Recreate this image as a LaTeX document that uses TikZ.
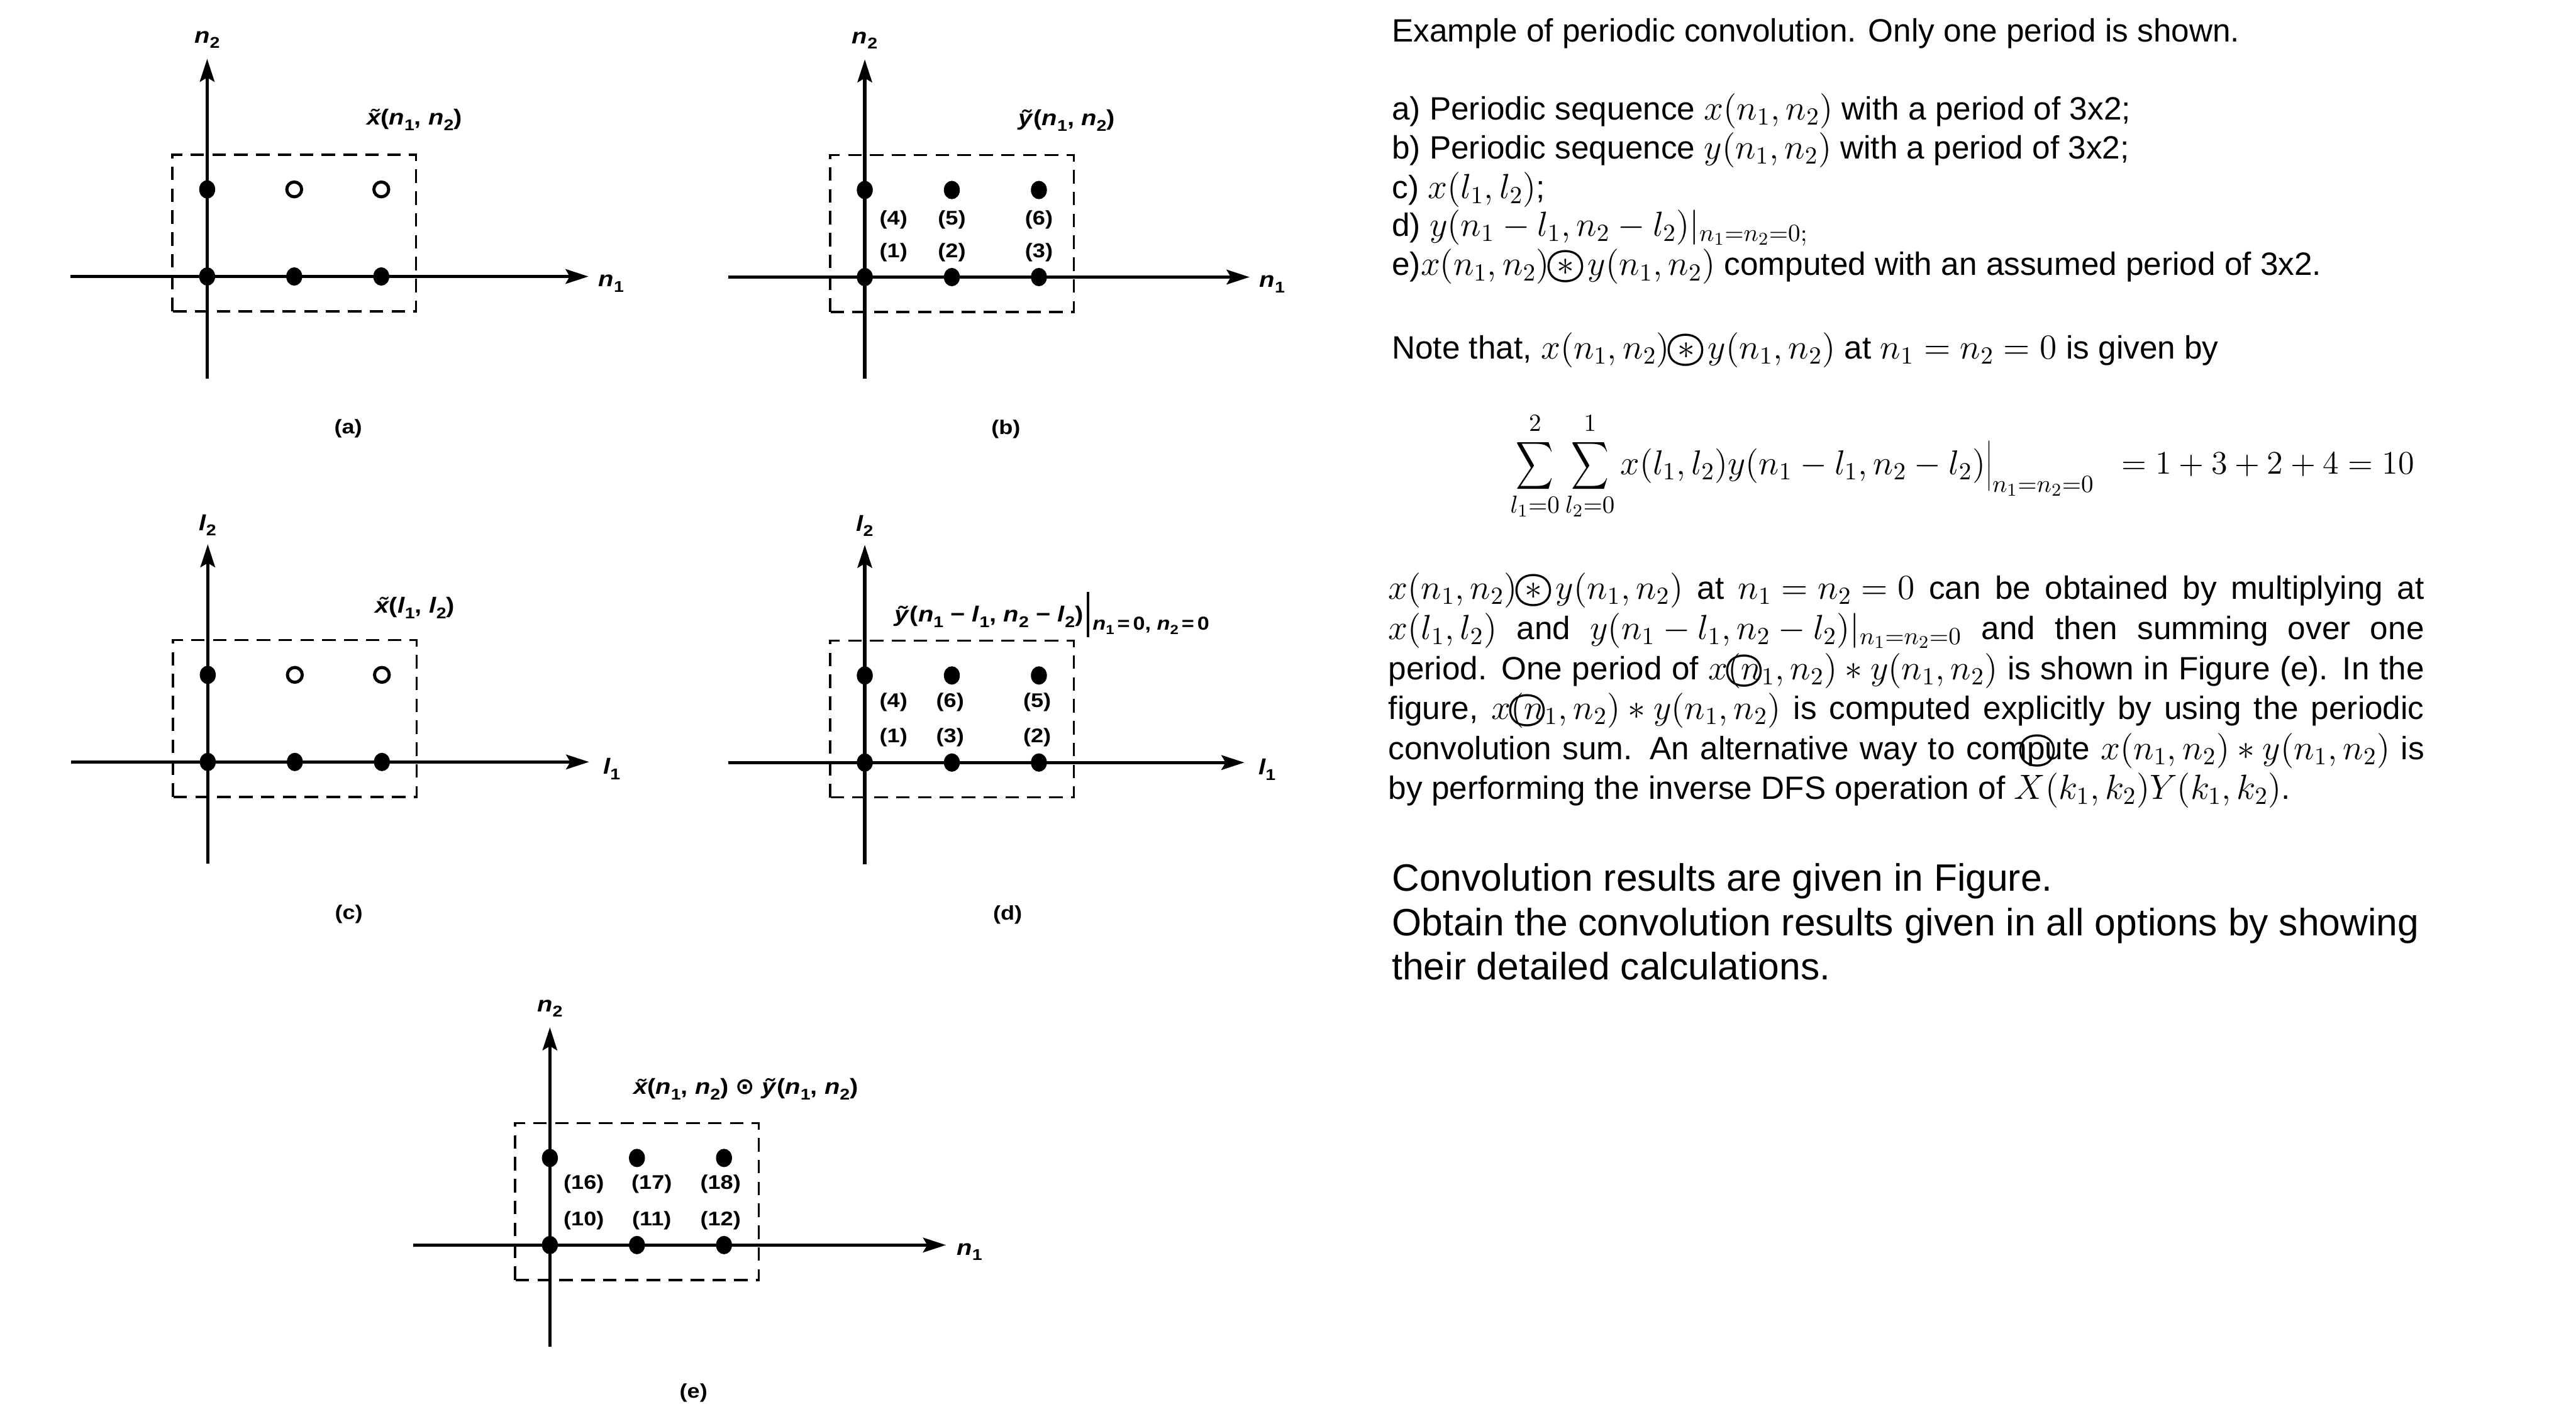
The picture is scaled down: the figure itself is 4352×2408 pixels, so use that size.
\RequirePackage{fix-cm}
\documentclass[tikz,border=0pt]{standalone}
\usepackage[no-math]{fontspec}
\usepackage{graphicx}
\setmainfont{Liberation Sans}
\newfontfamily\figfont{Liberation Sans}[FakeStretch=1.15]
\newfontfamily\dejavu{DejaVu Sans}
\DeclareMathSizes{15.5}{16.8}{11.8}{8.6}
\DeclareMathSizes{16}{16.6}{11.8}{8.6}
\usetikzlibrary{arrows.meta,shapes.geometric}
\newcommand{\fsb}[1]{\raisebox{-0.45ex}{\fontsize{7.5pt}{8pt}\selectfont\upshape #1}}
\newcommand{\fsbs}[1]{\raisebox{-0.4ex}{\fontsize{6.3pt}{7pt}\selectfont\upshape #1}}
\newcommand{\cconv}{\mathbin{\mkern-6mu\mbox{\ooalign{{\boldmath$\bigcirc$}\cr\hidewidth$*$\hidewidth\cr}}\mkern-3mu}}
\newcommand{\gcirc}[1]{\makebox[0pt][l]{\hspace*{#1}{\boldmath$\bigcirc$}}}
\newcommand{\bigsum}{\mathop{\vcenter{\hbox{\scalebox{1.25}[1.6]{$\displaystyle\sum$}}}}\limits}
\tikzset{
  axisline/.style={line width=1.6pt, -{Stealth[length=11pt,width=7pt,inset=2pt]}},
  dashbox/.style={line width=1.1pt, dash pattern=on 6.5pt off 4pt},
  fdot/.style={ellipse, fill=black, inner sep=0pt, minimum width=0.27cm, minimum height=0.31cm},
  odot/.style={circle, draw=black, line width=1.5pt, fill=white, inner sep=0pt, minimum size=0.25cm},
  axlab/.style={font=\figfont\fontsize{10.5pt}{12pt}\selectfont\bfseries\itshape, inner sep=0pt},
  numlab/.style={font=\figfont\fontsize{9.5pt}{11pt}\selectfont\bfseries, inner sep=0pt},
  funlab/.style={font=\figfont\fontsize{10.5pt}{12pt}\selectfont\bfseries, inner sep=0pt},
  panlab/.style={font=\figfont\fontsize{9.5pt}{11pt}\selectfont\bfseries, inner sep=0pt},
  rtext/.style={font=\fontsize{15.5pt}{18pt}\selectfont, inner sep=0pt, anchor=base west},
  rbig/.style={font=\fontsize{18.3pt}{21pt}\selectfont, inner sep=0pt, anchor=base west},
}
% #1 prefix, #2 horizontal axis label, #3 vertical axis label, #4 x-axis tip, #5 label position
\newcommand{\panelbase}[5]{%
  \draw[dashbox] (-0.4,-0.4) rectangle (2.4,1.4);
  \coordinate (#1xl) at (-1.57,0);
  \coordinate (#1xr) at (#4,0);
  \coordinate (#1yb) at (0,-1.17);
  \coordinate (#1yt) at (0,2.5);
  \draw[axisline] (#1xl) -- (#1xr);
  \draw[axisline] (#1yb) -- (#1yt);
  \node[axlab] (#1h) at (#5,-0.08) {#2};
  \node[axlab] (#1v) at (0,2.72) {#3};
  \node[fdot] (#1d00) at (0,0) {};
  \node[fdot] (#1d10) at (1,0) {};
  \node[fdot] (#1d20) at (2,0) {};
  \node[fdot] (#1d01) at (0,1) {};
}
\begin{document}
\begin{tikzpicture}[x=0.01cm, y=-0.01cm]
\useasboundingbox (0,0) rectangle (4352,2408);

% ---------- panel (a)
\begin{scope}[shift={(350,467)}, x=1.47cm, y=1.47cm]
  \panelbase{a}{n\fsb{1}}{n\fsb{2}}{4.38}{4.64}
  \node[odot] (ad11) at (1,1) {};
  \node[odot] (ad21) at (2,1) {};
  \node[funlab] (af) at (2.38,1.80) {\textit{\~x}(\textit{n}\fsb{1}, \textit{n}\fsb{2})};
  \node[panlab] (ap) at (1.62,-1.75) {(a)};
\end{scope}

% ---------- panel (b)
\begin{scope}[shift={(1461,468)}, x=1.47cm, y=1.47cm]
  \panelbase{b}{n\fsb{1}}{n\fsb{2}}{4.42}{4.68}
  \node[fdot] (bd11) at (1,1) {};
  \node[fdot] (bd21) at (2,1) {};
  \node[numlab] (b4) at (0.33,0.66) {(4)};
  \node[numlab] (b5) at (1.00,0.66) {(5)};
  \node[numlab] (b6) at (2.00,0.66) {(6)};
  \node[numlab] (b1) at (0.33,0.28) {(1)};
  \node[numlab] (b2) at (1.00,0.28) {(2)};
  \node[numlab] (b3) at (2.00,0.28) {(3)};
  \node[funlab] (bf) at (2.32,1.80) {\textit{\~y}(\textit{n}\fsb{1}, \textit{n}\fsb{2})};
  \node[panlab] (bp) at (1.62,-1.75) {(b)};
\end{scope}

% ---------- panel (c)
\begin{scope}[shift={(351,1287)}, x=1.47cm, y=1.47cm]
  \panelbase{c}{l\fsb{1}}{l\fsb{2}}{4.38}{4.64}
  \node[odot] (cd11) at (1,1) {};
  \node[odot] (cd21) at (2,1) {};
  \node[funlab] (cf) at (2.38,1.77) {\textit{\~x}(\textit{l}\fsb{1}, \textit{l}\fsb{2})};
  \node[panlab] (cp) at (1.62,-1.75) {(c)};
\end{scope}

% ---------- panel (d)
\begin{scope}[shift={(1461,1288)}, x=1.47cm, y=1.47cm]
  \panelbase{d}{l\fsb{1}}{l\fsb{2}}{4.36}{4.62}
  \node[fdot] (dd11) at (1,1) {};
  \node[fdot] (dd21) at (2,1) {};
  \node[numlab] (d4) at (0.33,0.69) {(4)};
  \node[numlab] (d6) at (0.98,0.69) {(6)};
  \node[numlab] (d5) at (1.98,0.69) {(5)};
  \node[numlab] (d1) at (0.33,0.29) {(1)};
  \node[numlab] (d3) at (0.98,0.29) {(3)};
  \node[numlab] (d2) at (1.98,0.29) {(2)};
  \node[funlab, anchor=west] (df) at (0.34,1.70) {\textit{\~y}(\textit{n}\fsb{1} − \textit{l}\fsb{1}, \textit{n}\fsb{2} − \textit{l}\fsb{2})\,\rule[-1.3ex]{1pt}{3.9ex}\,\raisebox{-0.7ex}{\fontsize{9pt}{10pt}\selectfont\textit{n}\fsbs{1}\,=\,0, \textit{n}\fsbs{2}\,=\,0}};
  \node[panlab] (dp) at (1.64,-1.75) {(d)};
\end{scope}

% ---------- panel (e)
\begin{scope}[shift={(929,2103)}, x=1.47cm, y=1.47cm]
  \panelbase{e}{n\fsb{1}}{n\fsb{2}}{4.55}{4.82}
  \node[fdot] (ed11) at (1,1) {};
  \node[fdot] (ed21) at (2,1) {};
  \node[numlab] (e16) at (0.39,0.70) {(16)};
  \node[numlab] (e17) at (1.17,0.70) {(17)};
  \node[numlab] (e18) at (1.96,0.70) {(18)};
  \node[numlab] (e10) at (0.39,0.28) {(10)};
  \node[numlab] (e11) at (1.17,0.28) {(11)};
  \node[numlab] (e12) at (1.96,0.28) {(12)};
  \node[funlab] (ef) at (2.25,1.79) {\textit{\~x}(\textit{n}\fsb{1}, \textit{n}\fsb{2}) {\dejavu\bfseries\fontsize{11pt}{12pt}\selectfont ⊙} \textit{\~y}(\textit{n}\fsb{1}, \textit{n}\fsb{2})};
  \node[panlab] (ep) at (1.65,-1.70) {(e)};
\end{scope}

% ---------- right-hand text
\node[rtext] (t0) at (2351,71) {Example of periodic convolution. Only one period is shown.};
\node[rtext] (ta) at (2351,202) {a) Periodic sequence $x(n_1,n_2)$ with a period of 3x2;};
\node[rtext] (tb) at (2351,268) {b) Periodic sequence $y(n_1,n_2)$ with a period of 3x2;};
\node[rtext] (tc) at (2351,335) {c) $x(l_1,l_2)$;};
\node[rtext] (td) at (2351,399) {d) $y(n_1-l_1,n_2-l_2)|_{n_1=n_2=0;}$};
\node[rtext] (te) at (2351,465) {e)$x(n_1,n_2)\cconv y(n_1,n_2)$ computed with an assumed period of 3x2.};
\node[rtext] (tn) at (2351,606) {Note that, $x(n_1,n_2)\cconv y(n_1,n_2)$ at $n_1=n_2=0$ is given by};

\node[anchor=west, inner sep=0pt, font=\fontsize{16pt}{19pt}\selectfont] (sumx) at (2551,785)
  {$\displaystyle \bigsum_{l_1=0}^{2\vphantom{|}}\bigsum_{l_2=0}^{1\vphantom{|}} x(l_1,l_2)y(n_1-l_1,n_2-l_2)\bigg|_{n_1=n_2=0}$};
\node[anchor=east, inner sep=0pt, font=\fontsize{15.8pt}{19pt}\selectfont] (sumr) at (4080,785)
  {$=1+3+2+4=10$};

\node[rtext] (p1) at (2345,1012) {\makebox[497.6pt][s]{\mbox{$x(n_1,n_2)\cconv y(n_1,n_2)$} at \mbox{$n_1=n_2=0$} can be obtained by multiplying at}};
\node[rtext] (p2) at (2345,1080) {\makebox[497.6pt][s]{\mbox{$x(l_1,l_2)$} and \mbox{$y(n_1-l_1,n_2-l_2)|_{n_1=n_2=0}$} and then summing over one}};
\node[rtext] (p3) at (2345,1148) {\makebox[497.6pt][s]{period. One period of \mbox{$x$\gcirc{-0.12em}$(n_1,n_2)*y(n_1,n_2)$} is shown in Figure (e). In the}};
\node[rtext] (p4) at (2345,1215) {\makebox[497.6pt][s]{figure, \mbox{$x$\gcirc{-0.12em}$(n_1,n_2)*y(n_1,n_2)$} is computed explicitly by using the periodic}};
\node[rtext] (p5) at (2345,1283) {\makebox[497.6pt][s]{convolution sum. An alternative way to com\gcirc{-0.3em}pute \mbox{$x(n_1,n_2)*y(n_1,n_2)$} is}};
\node[rtext] (p6) at (2345,1350) {by performing the inverse DFS operation of $X(k_1,k_2)Y(k_1,k_2)$.};

\node[rbig] (q1) at (2351,1505) {Convolution results are given in Figure.};
\node[rbig] (q2) at (2351,1580) {Obtain the convolution results given in all options by showing};
\node[rbig] (q3) at (2351,1655) {their detailed calculations.};
\end{tikzpicture}
\end{document}
